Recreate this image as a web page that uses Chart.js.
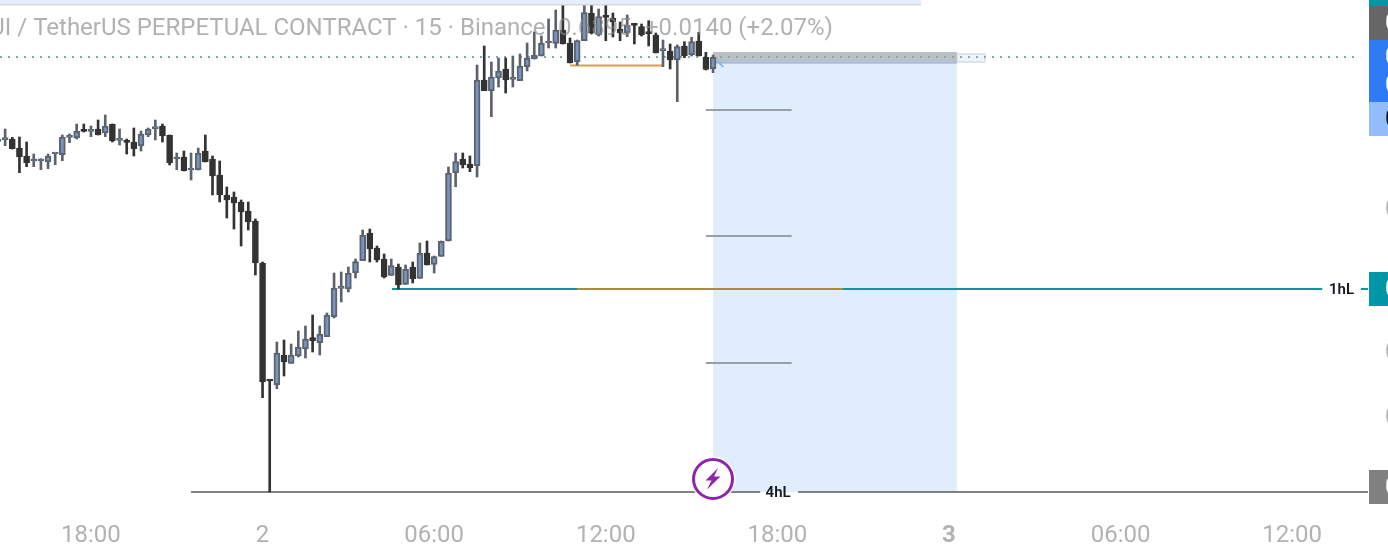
<!DOCTYPE html>
<html>
<head>
<meta charset="utf-8">
<style>html,body{margin:0;padding:0;background:#fff;overflow:hidden}canvas{display:block}</style>
<script src="https://cdn.jsdelivr.net/npm/chart.js@4"></script>
</head>
<body>
<canvas id="c" width="1388" height="555"></canvas>
<script>
const highs=[0.67715,0.67865,0.6774,0.67745,0.6767,0.6749,0.6742,0.6749,0.675,0.67775,0.6779,0.6794,0.6794,0.6791,0.68,0.68075,0.6794,0.67865,0.67715,0.6788,0.67835,0.6788,0.68,0.6794,0.67775,0.67505,0.67535,0.67505,0.6758,0.67775,0.6746,0.67385,0.66995,0.6692,0.668,0.6677,0.66515,0.6587,0.641,0.6467,0.647,0.6464,0.64835,0.6491,0.65075,0.6491,0.65105,0.65705,0.6572,0.65795,0.65915,0.6635,0.66365,0.6611,0.6599,0.65915,0.6584,0.65825,0.6587,0.66155,0.66185,0.6596,0.66185,0.67295,0.67505,0.67505,0.6746,0.68825,0.6911,0.6887,0.6893,0.6893,0.6896,0.6899,0.69155,0.6932,0.6926,0.69515,0.6965,0.69725,0.6923,0.692,0.69725,0.69875,0.69665,0.6974,0.69605,0.6947,0.69575,0.6944,0.6944,0.6949,0.69305,0.692,0.6914,0.69125,0.69175,0.6924,0.69315,0.69015,0.68975];
const opens=[0.6768,0.67705,0.67715,0.6758,0.6746,0.67385,0.67385,0.6737,0.6749,0.6748,0.6774,0.6773,0.6784,0.6783,0.67865,0.67805,0.6794,0.67695,0.67675,0.6767,0.6761,0.67775,0.6787,0.6791,0.67775,0.67415,0.67445,0.6725,0.67255,0.67535,0.67415,0.67175,0.66875,0.66845,0.6677,0.66635,0.66485,0.65855,0.64095,0.6403,0.64475,0.6435,0.6446,0.64565,0.64738,0.6466,0.6475,0.6505,0.65475,0.65465,0.6571,0.6589,0.66305,0.6608,0.65915,0.6567,0.65795,0.65535,0.65795,0.65625,0.66005,0.65835,0.65955,0.66185,0.6721,0.67415,0.6734,0.67315,0.686,0.6844,0.6863,0.68765,0.6861,0.6859,0.688,0.68915,0.6896,0.69155,0.6915,0.6935,0.69155,0.6887,0.6919,0.69605,0.69275,0.6955,0.6953,0.69365,0.69305,0.6943,0.694,0.69305,0.69275,0.6904,0.69035,0.689,0.6911,0.68975,0.69185,0.6894,0.68765];
const closes=[0.6769,0.6771,0.6757,0.6745,0.6736,0.67395,0.67395,0.6746,0.675,0.67745,0.6775,0.6783,0.6783,0.6784,0.67775,0.6791,0.67685,0.67705,0.67665,0.6757,0.6779,0.67865,0.6789,0.6776,0.6736,0.67425,0.6724,0.6726,0.67505,0.6737,0.6716,0.66875,0.668,0.66755,0.6662,0.6647,0.65855,0.6407,0.64085,0.64505,0.6437,0.64475,0.64595,0.64715,0.6469,0.6479,0.65075,0.6548,0.65485,0.65705,0.65875,0.66275,0.66065,0.659,0.65645,0.65815,0.65525,0.6576,0.65615,0.66,0.65825,0.6595,0.6618,0.67205,0.67375,0.67325,0.67285,0.686,0.6844,0.68645,0.68735,0.686,0.6862,0.6881,0.68925,0.68975,0.69155,0.69165,0.6935,0.6914,0.68855,0.6919,0.6961,0.69305,0.6955,0.6954,0.6947,0.69305,0.69425,0.6942,0.69275,0.69295,0.69005,0.6905,0.689,0.691,0.6896,0.69175,0.6896,0.6876,0.6894];
const lows=[0.67655,0.67615,0.67565,0.6721,0.673,0.673,0.67255,0.6727,0.6733,0.6739,0.6766,0.67715,0.6782,0.6775,0.67775,0.6775,0.6767,0.67625,0.6749,0.6746,0.67535,0.6775,0.677,0.6767,0.67325,0.67255,0.67235,0.671,0.6725,0.6737,0.66875,0.6677,0.6653,0.66365,0.6611,0.6635,0.65675,0.63835,0.6242,0.6397,0.6416,0.6435,0.64445,0.6443,0.6452,0.64475,0.6475,0.6503,0.6527,0.6542,0.6563,0.6589,0.6587,0.6587,0.6563,0.6567,0.65465,0.65535,0.65555,0.65625,0.65825,0.65705,0.65955,0.66185,0.67,0.6728,0.67225,0.67145,0.6844,0.6805,0.68495,0.68405,0.68495,0.6859,0.68735,0.68915,0.6896,0.6908,0.6908,0.6914,0.68855,0.68825,0.6919,0.6929,0.6926,0.6919,0.69245,0.6919,0.6925,0.6914,0.6926,0.6911,0.69005,0.688,0.68765,0.68275,0.68935,0.6896,0.6896,0.6875,0.6871];

const xTickBars=[13,37,61,85,109,133,157,181];
const xTickLabels=['18:00','2','06:00','12:00','18:00','3','06:00','12:00'];
const yTickValues=[0.66655,0.64505,0.63535];
const xMin=0.28, xMax=191.6, yMin=0.62045, yMax=0.698;

const level1h=0.65465, level4h=0.6242, levelLast=0.68945;
const seg1h=[[55.1,185.2],[190.6,191.6]];
const seg4h=[[27,106.6],[111.9,191.6]];
const segDotted=[0.28,190.5];
const orangeLow=0.68818, orangeSeg=[80,93];
const orangeMid=0.65465, orangeMidSeg=[81,118.2];
const greyLevels=[0.6815,0.6626,0.64355], greySeg=[99,111];

const zoneBars=[100,134.1], zonePrices=[0.6902,0.6242];
const entryPrices=[0.6902,0.6887];
const ghostBars=[134.1,138], ghostPrices=[0.6899,0.6887];

const tagPrices=[0.69965,0.69455,0.68945,0.68525,0.68015,0.65465,0.62495];
const tagColors=['#0097a7','#666666','#2f7bf6','#2f7bf6','#93bdf8','#0097a7','#808080'];
const tagTextColors=['#ffffff','#ffffff','#ffffff','#ffffff','#111111','#ffffff','#ffffff'];

const titleMain='SUI / TetherUS PERPETUAL CONTRACT · 15 · Binance';
const titleLast='0.6895';
const titleChange='+0.0140 (+2.07%)';

const barIdx=highs.map((_,i)=>i);
const isUp=i=>closes[i]>=opens[i];
const lineDs=(pts,color,w,extra)=>Object.assign({type:'line',data:pts,borderColor:color,borderWidth:w,pointRadius:0,fill:false,tension:0,order:5},extra||{});
const seg=(s,y)=>[{x:s[0],y},{x:s[1],y}];

const datasets=[
 {label:'wicks',data:barIdx.map(i=>({x:i,y:[lows[i],highs[i]]})),barThickness:2,grouped:false,
  backgroundColor:barIdx.map(i=>isUp(i)?'#5c626b':'#333333'),order:3},
 {label:'bodies',data:barIdx.map(i=>({x:i,y:[opens[i],closes[i]]})),barThickness:6,grouped:false,minBarLength:2,
  backgroundColor:barIdx.map(i=>isUp(i)?'#7b93c0':'#333333'),
  borderColor:barIdx.map(i=>isUp(i)?'#5b6470':'#333333'),borderWidth:2,borderSkipped:false,order:2},
 lineDs(seg(segDotted,levelLast),'#84aab4',2,{borderDash:[2,6],order:6}),
 lineDs(seg(orangeMidSeg,orangeMid),'#a88c42',2,{order:4}),
 lineDs(seg(orangeSeg,orangeLow),'#dd9a4a',2,{order:4}),
];
seg1h.forEach(s=>datasets.push(lineDs(seg(s,level1h),'#0f939f',2)));
seg4h.forEach(s=>datasets.push(lineDs(seg(s,level4h),'#808080',2,{order:7})));
greyLevels.forEach(v=>datasets.push(lineDs(seg(greySeg,v),'#9a9fa6',2,{order:5})));

const backdrop={id:'backdrop',beforeDatasetsDraw(ch){
  const c=ch.ctx,x=ch.scales.x,y=ch.scales.y;
  const rect=(bx,py,col)=>{c.fillStyle=col;const l=x.getPixelForValue(bx[0]),r=x.getPixelForValue(bx[1]),t=y.getPixelForValue(py[0]),b=y.getPixelForValue(py[1]);c.fillRect(l,t,r-l,b-t);};
  rect(ghostBars,ghostPrices,'#eef4fc');
  c.strokeStyle='#d5dbe6';c.lineWidth=1.5;
  c.strokeRect(x.getPixelForValue(zoneBars[1]),y.getPixelForValue(ghostPrices[0]),x.getPixelForValue(ghostBars[1])-x.getPixelForValue(zoneBars[1]),y.getPixelForValue(ghostPrices[1])-y.getPixelForValue(ghostPrices[0]));
  rect(zoneBars,zonePrices,'#e0edfc');
  rect(zoneBars,entryPrices,'#bcbfc6');
  rect(zoneBars,[entryPrices[1],entryPrices[1]-0.00025],'#9dbce6');
}};
const overlay={id:'overlay',afterDraw(ch){
  const c=ch.ctx,x=ch.scales.x,y=ch.scales.y;
  c.save();
  c.fillStyle='#e3eefc';c.fillRect(0,0,921,4);
  c.fillStyle='#d8d8d8';c.fillRect(0,4,921,1.5);
  tagPrices.forEach((p,i)=>{
    const cy=y.getPixelForValue(p);
    c.fillStyle=tagColors[i];c.fillRect(1369,cy-17,19,34);
  });
  c.font='24px Roboto';c.textBaseline='middle';c.textAlign='left';
  tagPrices.forEach((p,i)=>{
    c.fillStyle=tagTextColors[i];c.fillText(p.toFixed(4),1385,y.getPixelForValue(p)+1);
  });
  c.fillStyle='rgba(135,135,135,0.65)';
  c.font='24px Roboto';c.textBaseline='middle';
  c.fillText(titleMain,-25,29);
  c.fillText(titleLast,558,29);
  c.fillText(titleChange,645,29);
  c.fillStyle='#131722';c.font='600 15px Roboto';c.textAlign='center';
  c.fillText('1hL',x.getPixelForValue(187.9),y.getPixelForValue(level1h)+1.5);
  c.fillText('4hL',x.getPixelForValue(109.1),y.getPixelForValue(level4h)+1.5);
  const ax=x.getPixelForValue(100.6),ay=y.getPixelForValue(0.6887);
  c.strokeStyle='#8fb8ee';c.lineWidth=2;c.beginPath();c.moveTo(ax,ay-1);c.lineTo(ax+6,ay+5);c.stroke();
  const mx=x.getPixelForValue(100),my=y.getPixelForValue(level4h)-13;
  c.fillStyle='#ffffff';c.beginPath();c.arc(mx,my,22.5,0,Math.PI*2);c.fill();
  c.strokeStyle='#8e24aa';c.lineWidth=3;c.beginPath();c.arc(mx,my,19.5,0,Math.PI*2);c.stroke();
  c.fillStyle='#8e24aa';c.beginPath();
  [[5,-11],[-7.5,1.5],[-1.5,1.5],[-6,10.5],[7.5,-2.5],[1,-2.5]].forEach((q,i)=>i?c.lineTo(mx+q[0],my+q[1]):c.moveTo(mx+q[0],my+q[1]));
  c.closePath();c.fill();
  c.restore();
}};

new Chart(document.getElementById('c'),{
 type:'bar',
 data:{datasets},
 plugins:[backdrop,overlay],
 options:{
  responsive:false,animation:false,devicePixelRatio:1,
  layout:{padding:0,autoPadding:false},
  plugins:{legend:{display:false},tooltip:{enabled:false},title:{display:false}},
  scales:{
   x:{type:'linear',offset:false,min:xMin,max:xMax,
      grid:{display:false,offset:false,drawTicks:false},border:{display:false},
      afterBuildTicks(s){s.ticks=xTickBars.map(v=>({value:v}));},
      afterFit(s){s.height=38;s.paddingLeft=0;s.paddingRight=0;},
      ticks:{autoSkip:false,maxRotation:0,padding:5,color:'#b2b2b2',
        font:c=>({family:'Roboto',size:24,weight:c.tick&&c.tick.value===133?'bold':'normal'}),
        callback:v=>xTickLabels[xTickBars.indexOf(v)]}},
   y:{type:'linear',position:'right',min:yMin,max:yMax,
      grid:{display:false,drawTicks:false},border:{display:false},
      afterBuildTicks(s){s.ticks=yTickValues.map(v=>({value:v}));},
      afterFit(s){s.width=20;s.paddingTop=0;s.paddingBottom=0;},
      ticks:{autoSkip:false,padding:17,color:'#b2b2b2',font:{family:'Roboto',size:24},
        callback:v=>v.toFixed(4)}}
  }
 }
});
</script>
</body>
</html>
